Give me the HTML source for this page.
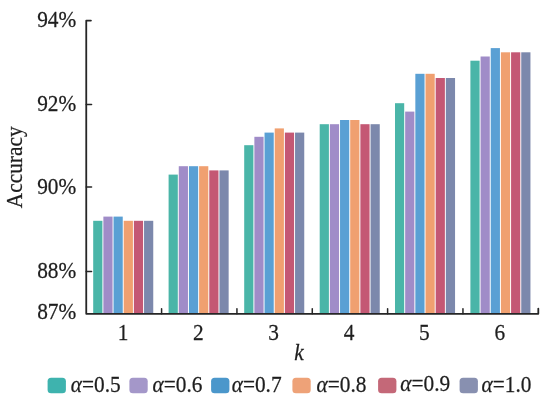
<!DOCTYPE html>
<html><head><meta charset="utf-8"><title>chart</title>
<style>html,body{margin:0;padding:0;background:#fff;width:550px;height:401px;overflow:hidden}</style>
</head><body>
<svg width="550" height="401" viewBox="0 0 550 401" style="position:absolute;left:0;top:0">
<rect width="550" height="401" fill="#fff"/>
<rect x="93.20" y="220.80" width="9.2" height="93.05" fill="#4AB5A8"/>
<rect x="103.37" y="216.60" width="9.2" height="97.25" fill="#A08CC8"/>
<rect x="113.54" y="216.60" width="9.2" height="97.25" fill="#5AA0D4"/>
<rect x="123.71" y="220.80" width="9.2" height="93.05" fill="#F0A070"/>
<rect x="133.88" y="220.80" width="9.2" height="93.05" fill="#C45874"/>
<rect x="144.05" y="220.80" width="9.2" height="93.05" fill="#7C88AC"/>
<rect x="168.60" y="174.60" width="9.2" height="139.25" fill="#4AB5A8"/>
<rect x="178.77" y="166.20" width="9.2" height="147.65" fill="#A08CC8"/>
<rect x="188.94" y="166.20" width="9.2" height="147.65" fill="#5AA0D4"/>
<rect x="199.11" y="166.20" width="9.2" height="147.65" fill="#F0A070"/>
<rect x="209.28" y="170.40" width="9.2" height="143.45" fill="#C45874"/>
<rect x="219.45" y="170.40" width="9.2" height="143.45" fill="#7C88AC"/>
<rect x="244.20" y="145.20" width="9.2" height="168.65" fill="#4AB5A8"/>
<rect x="254.37" y="136.80" width="9.2" height="177.05" fill="#A08CC8"/>
<rect x="264.54" y="132.60" width="9.2" height="181.25" fill="#5AA0D4"/>
<rect x="274.71" y="128.40" width="9.2" height="185.45" fill="#F0A070"/>
<rect x="284.88" y="132.60" width="9.2" height="181.25" fill="#C45874"/>
<rect x="295.05" y="132.60" width="9.2" height="181.25" fill="#7C88AC"/>
<rect x="319.70" y="124.20" width="9.2" height="189.65" fill="#4AB5A8"/>
<rect x="329.87" y="124.20" width="9.2" height="189.65" fill="#A08CC8"/>
<rect x="340.04" y="120.00" width="9.2" height="193.85" fill="#5AA0D4"/>
<rect x="350.21" y="120.00" width="9.2" height="193.85" fill="#F0A070"/>
<rect x="360.38" y="124.20" width="9.2" height="189.65" fill="#C45874"/>
<rect x="370.55" y="124.20" width="9.2" height="189.65" fill="#7C88AC"/>
<rect x="395.00" y="103.20" width="9.2" height="210.65" fill="#4AB5A8"/>
<rect x="405.17" y="111.60" width="9.2" height="202.25" fill="#A08CC8"/>
<rect x="415.34" y="73.80" width="9.2" height="240.05" fill="#5AA0D4"/>
<rect x="425.51" y="73.80" width="9.2" height="240.05" fill="#F0A070"/>
<rect x="435.68" y="78.00" width="9.2" height="235.85" fill="#C45874"/>
<rect x="445.85" y="78.00" width="9.2" height="235.85" fill="#7C88AC"/>
<rect x="470.40" y="60.70" width="9.2" height="253.15" fill="#4AB5A8"/>
<rect x="480.57" y="56.50" width="9.2" height="257.35" fill="#A08CC8"/>
<rect x="490.74" y="48.10" width="9.2" height="265.75" fill="#5AA0D4"/>
<rect x="500.91" y="52.30" width="9.2" height="261.55" fill="#F0A070"/>
<rect x="511.08" y="52.30" width="9.2" height="261.55" fill="#C45874"/>
<rect x="521.25" y="52.30" width="9.2" height="261.55" fill="#7C88AC"/>
<path d="M90.95 20.60H86.25V313.85H538.30V308.6" fill="none" stroke="#262626" stroke-width="1.8" stroke-linejoin="round" stroke-linecap="round"/>
<path d="M86.25 104.40h5.3" stroke="#262626" stroke-width="1.5" stroke-linecap="round" fill="none"/>
<path d="M86.25 187.10h5.3" stroke="#262626" stroke-width="1.5" stroke-linecap="round" fill="none"/>
<path d="M86.25 271.40h5.3" stroke="#262626" stroke-width="1.5" stroke-linecap="round" fill="none"/>
<path d="M161.59 313.85V308.8" stroke="#262626" stroke-width="1.5" stroke-linecap="round" fill="none"/>
<path d="M236.93 313.85V308.8" stroke="#262626" stroke-width="1.5" stroke-linecap="round" fill="none"/>
<path d="M312.27 313.85V308.8" stroke="#262626" stroke-width="1.5" stroke-linecap="round" fill="none"/>
<path d="M387.61 313.85V308.8" stroke="#262626" stroke-width="1.5" stroke-linecap="round" fill="none"/>
<path d="M462.95 313.85V308.8" stroke="#262626" stroke-width="1.5" stroke-linecap="round" fill="none"/>
<text transform="translate(76.30,27.40) scale(0.928,1)" text-anchor="end"  font-family="'Liberation Serif', serif" font-size="23.0" fill="#1e1e1e" stroke="#1e1e1e" stroke-width="0.25">94%</text>
<text transform="translate(76.30,111.20) scale(0.928,1)" text-anchor="end"  font-family="'Liberation Serif', serif" font-size="23.0" fill="#1e1e1e" stroke="#1e1e1e" stroke-width="0.25">92%</text>
<text transform="translate(76.30,193.90) scale(0.928,1)" text-anchor="end"  font-family="'Liberation Serif', serif" font-size="23.0" fill="#1e1e1e" stroke="#1e1e1e" stroke-width="0.25">90%</text>
<text transform="translate(76.30,278.20) scale(0.928,1)" text-anchor="end"  font-family="'Liberation Serif', serif" font-size="23.0" fill="#1e1e1e" stroke="#1e1e1e" stroke-width="0.25">88%</text>
<text transform="translate(76.30,319.10) scale(0.928,1)" text-anchor="end"  font-family="'Liberation Serif', serif" font-size="23.0" fill="#1e1e1e" stroke="#1e1e1e" stroke-width="0.25">87%</text>
<text transform="translate(123.02,340.00) scale(0.928,1)" text-anchor="middle"  font-family="'Liberation Serif', serif" font-size="23.0" fill="#1e1e1e" stroke="#1e1e1e" stroke-width="0.25">1</text>
<text transform="translate(198.36,340.00) scale(0.928,1)" text-anchor="middle"  font-family="'Liberation Serif', serif" font-size="23.0" fill="#1e1e1e" stroke="#1e1e1e" stroke-width="0.25">2</text>
<text transform="translate(273.70,340.00) scale(0.928,1)" text-anchor="middle"  font-family="'Liberation Serif', serif" font-size="23.0" fill="#1e1e1e" stroke="#1e1e1e" stroke-width="0.25">3</text>
<text transform="translate(349.04,340.00) scale(0.928,1)" text-anchor="middle"  font-family="'Liberation Serif', serif" font-size="23.0" fill="#1e1e1e" stroke="#1e1e1e" stroke-width="0.25">4</text>
<text transform="translate(424.38,340.00) scale(0.928,1)" text-anchor="middle"  font-family="'Liberation Serif', serif" font-size="23.0" fill="#1e1e1e" stroke="#1e1e1e" stroke-width="0.25">5</text>
<text transform="translate(499.72,340.00) scale(0.928,1)" text-anchor="middle"  font-family="'Liberation Serif', serif" font-size="23.0" fill="#1e1e1e" stroke="#1e1e1e" stroke-width="0.25">6</text>
<text transform="translate(299.00,360.00) scale(0.928,1)" text-anchor="middle" font-style="italic" font-family="'Liberation Serif', serif" font-size="23.0" fill="#1e1e1e" stroke="#1e1e1e" stroke-width="0.25">k</text>
<text transform="translate(22.00,167.30) rotate(-90) scale(0.928,1)" text-anchor="middle"  font-family="'Liberation Serif', serif" font-size="23.0" fill="#1e1e1e" stroke="#1e1e1e" stroke-width="0.25">Accuracy</text>
<rect x="47.6" y="377.7" width="18.3" height="15.5" rx="3.5" fill="#3EB3AE"/>
<text transform="translate(70.80,392.30) scale(0.928,1)" text-anchor="start"  font-family="'Liberation Serif', serif" font-size="23.0" fill="#1e1e1e" stroke="#1e1e1e" stroke-width="0.25"><tspan font-style="italic">α</tspan>=0.5</text>
<rect x="129.4" y="377.7" width="18.3" height="15.5" rx="3.5" fill="#A497C9"/>
<text transform="translate(152.60,392.30) scale(0.928,1)" text-anchor="start"  font-family="'Liberation Serif', serif" font-size="23.0" fill="#1e1e1e" stroke="#1e1e1e" stroke-width="0.25"><tspan font-style="italic">α</tspan>=0.6</text>
<rect x="211.1" y="377.7" width="18.3" height="15.5" rx="3.5" fill="#4B97CB"/>
<text transform="translate(231.70,392.30) scale(0.928,1)" text-anchor="start"  font-family="'Liberation Serif', serif" font-size="23.0" fill="#1e1e1e" stroke="#1e1e1e" stroke-width="0.25"><tspan font-style="italic">α</tspan>=0.7</text>
<rect x="292.4" y="377.7" width="18.3" height="15.5" rx="3.5" fill="#EEA278"/>
<text transform="translate(316.60,392.30) scale(0.928,1)" text-anchor="start"  font-family="'Liberation Serif', serif" font-size="23.0" fill="#1e1e1e" stroke="#1e1e1e" stroke-width="0.25"><tspan font-style="italic">α</tspan>=0.8</text>
<rect x="378.1" y="377.7" width="18.3" height="15.5" rx="3.5" fill="#C46878"/>
<text transform="translate(400.30,391.40) scale(0.928,1)" text-anchor="start"  font-family="'Liberation Serif', serif" font-size="23.0" fill="#1e1e1e" stroke="#1e1e1e" stroke-width="0.25"><tspan font-style="italic">α</tspan>=0.9</text>
<rect x="459.6" y="377.7" width="18.3" height="15.5" rx="3.5" fill="#8890B0"/>
<text transform="translate(481.60,391.60) scale(0.928,1)" text-anchor="start"  font-family="'Liberation Serif', serif" font-size="23.0" fill="#1e1e1e" stroke="#1e1e1e" stroke-width="0.25"><tspan font-style="italic">α</tspan>=1.0</text>
</svg>
</body></html>
